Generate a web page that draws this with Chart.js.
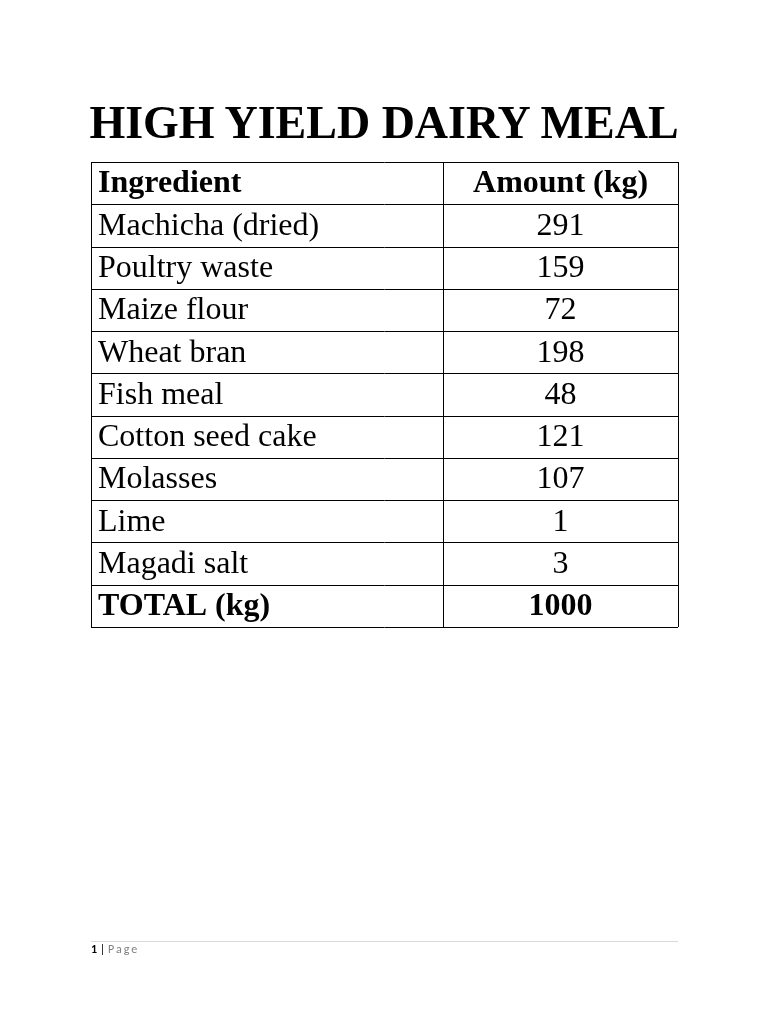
<!DOCTYPE html>
<html>
<head>
<meta charset="utf-8">
<script src="https://cdn.jsdelivr.net/npm/chart.js@4"></script>
<style>
  html, body { margin: 0; padding: 0; background: #fff; }
  #wrap { position: relative; width: 768px; height: 1024px; }
  canvas { position: absolute; left: 0; top: 0; }
  #title { position: absolute; left: 0; width: 768px; top: 96px; text-align: center;
    font: bold 46px "Liberation Serif", serif; color: #000; margin: 0; }
  #foot { position: absolute; left: 91px; top: 942px; font: 12px Calibri, Carlito, "Open Sans", sans-serif; color: #000; }
  #foot span { color: #7f7f7f; letter-spacing: 2px; }
  #footline { position: absolute; left: 91px; width: 587px; top: 941px; border-top: 1px solid #d9d9d9; }
</style>
</head>
<body>
<div id="wrap">
  <canvas id="c" width="768" height="1024"></canvas>
  <div id="title">HIGH YIELD DAIRY MEAL</div>
  <div id="footline"></div>
  <div id="foot"><b>1</b> | <span>Page</span></div>
</div>
<script>
const headers = ["Ingredient", "Amount (kg)"];
const ingredients = ["Machicha (dried)", "Poultry waste", "Maize flour", "Wheat bran", "Fish meal",
  "Cotton seed cake", "Molasses", "Lime", "Magadi salt"];
const amounts = [291, 159, 72, 198, 48, 121, 107, 1, 3];
const totalLabel = "TOTAL (kg)";
const totalValue = 1000;

const rows = [headers[0], ...ingredients, totalLabel];
const values = [headers[1], ...amounts.map(String), String(totalValue)];
const boldRows = [0, rows.length - 1];

const tablePlugin = {
  id: "table",
  afterDraw(chart) {
    const { ctx, scales: { x, y } } = chart;
    const left = x.getPixelForValue(0), right = x.getPixelForValue(1);
    const mid = x.getPixelForValue(0.6);
    const half = (y.getPixelForValue(1) - y.getPixelForValue(0)) / 2;
    ctx.save();
    ctx.strokeStyle = "#000";
    ctx.lineWidth = 1;
    const top = y.getPixelForValue(0) - half;
    const bottom = y.getPixelForValue(rows.length - 1) + half;
    ctx.beginPath();
    for (let i = 0; i <= rows.length; i++) {
      const py = Math.round(top + i * 2 * half) + 0.5;
      ctx.moveTo(left, py); ctx.lineTo(right, py);
    }
    [left, mid, right].forEach(px => {
      const p = Math.round(px) + 0.5;
      ctx.moveTo(p, top); ctx.lineTo(p, bottom);
    });
    ctx.stroke();
    ctx.fillStyle = "#000";
    ctx.textBaseline = "middle";
    rows.forEach((r, i) => {
      const py = y.getPixelForValue(i) + 1;
      ctx.font = (boldRows.includes(i) ? "bold " : "") + "32px 'Liberation Serif', serif";
      ctx.textAlign = "left";
      ctx.fillText(r, left + 7, py);
      ctx.textAlign = "center";
      ctx.fillText(values[i], (mid + right) / 2, py);
    });
    ctx.restore();
  }
};

new Chart(document.getElementById("c"), {
  type: "bar",
  data: { labels: rows, datasets: [{ data: [], backgroundColor: "transparent" }] },
  options: {
    responsive: false,
    animation: false,
    indexAxis: "y",
    layout: { padding: { left: 91, right: 90, top: 162, bottom: 397 } },
    plugins: { legend: { display: false }, tooltip: { enabled: false } },
    scales: {
      x: { type: "linear", min: 0, max: 1, display: false },
      y: { type: "category", offset: true, display: false }
    }
  },
  plugins: [tablePlugin]
});
</script>
</body>
</html>
